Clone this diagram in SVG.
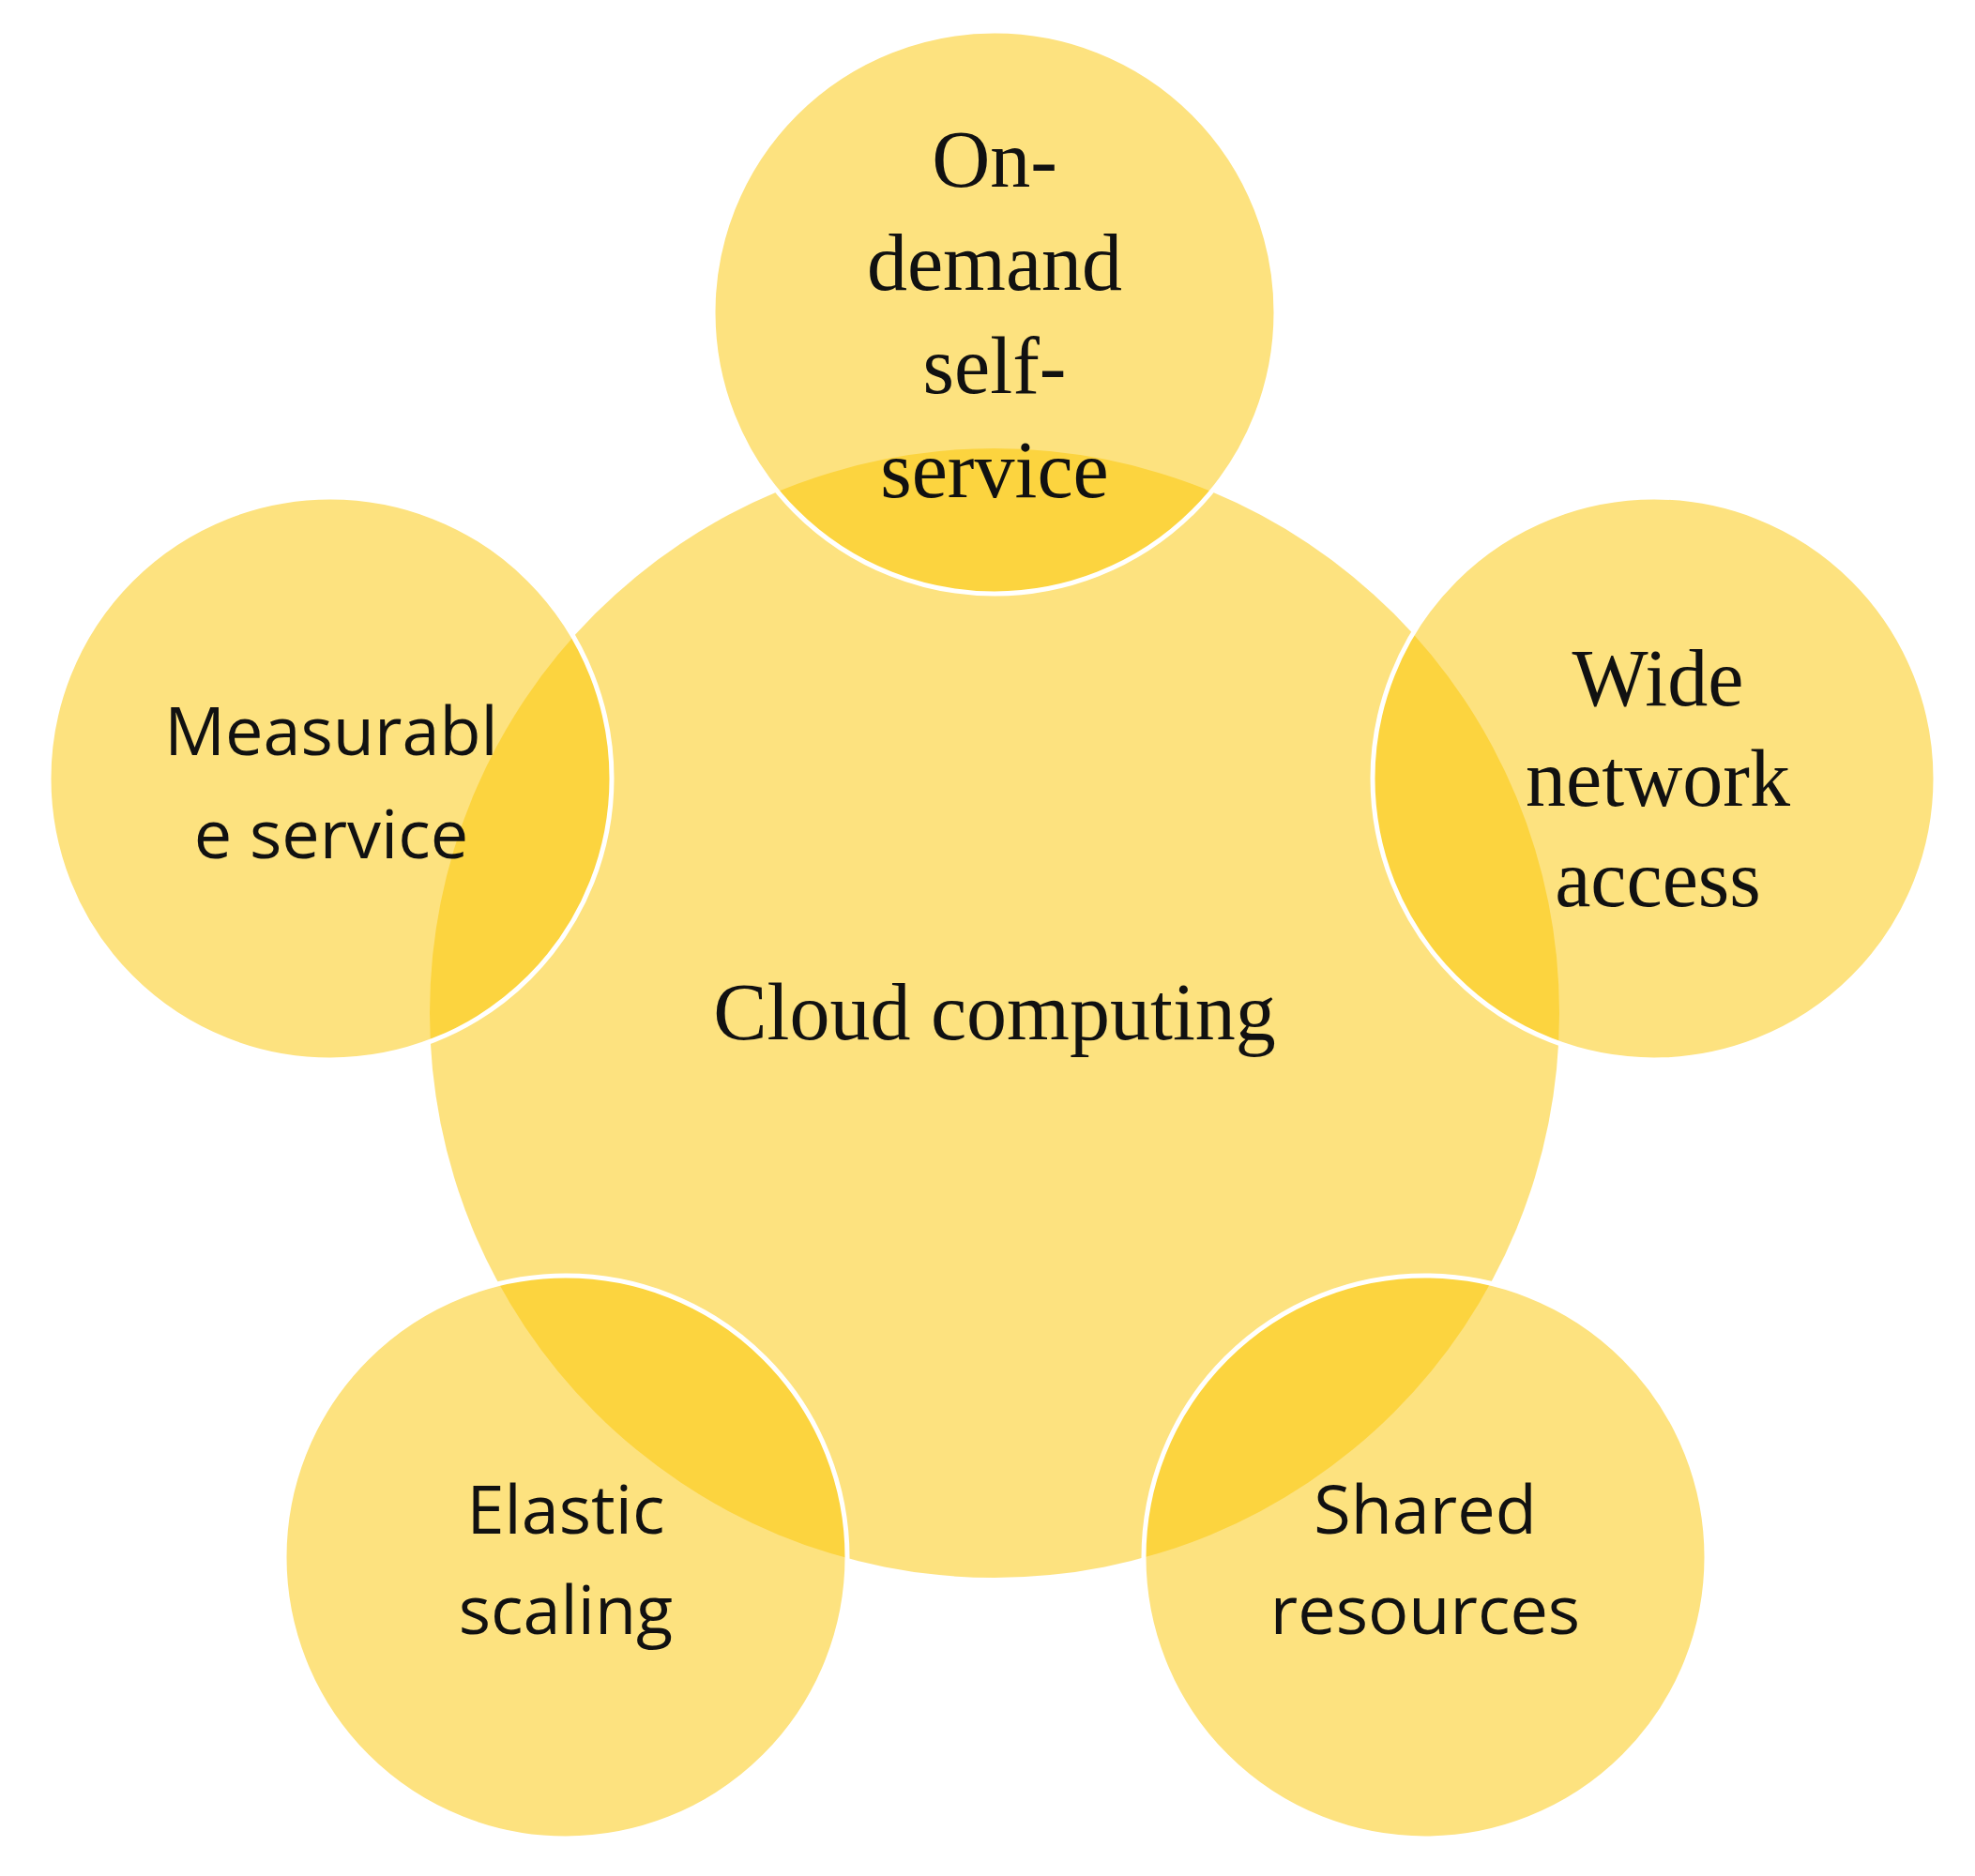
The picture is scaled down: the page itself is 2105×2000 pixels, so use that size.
<svg xmlns="http://www.w3.org/2000/svg" width="2105" height="2000" viewBox="0 0 2105 2000">
<style>
.c{fill:#FCC500;fill-opacity:0.5}
.s{fill:#FCC500;fill-opacity:0.5;stroke:#fff;stroke-width:5}
.sf{font-family:"Liberation Serif",serif;font-size:86px;fill:#111;text-anchor:middle}
.ss{font-family:"Open Sans","Liberation Sans",sans-serif;font-size:72px;fill:#111;text-anchor:middle}
</style>
<rect width="2105" height="2000" fill="#fff"/>
<g id="center"><circle class="c" cx="1060" cy="1080" r="602"/><text class="sf" x="1060" y="1108">Cloud computing</text></g>
<g id="top"><circle class="s" cx="1060" cy="333" r="300"/>
<text class="sf" x="1060" y="199">On-</text><text class="sf" x="1060" y="309">demand</text><text class="sf" x="1060" y="419">self-</text><text class="sf" x="1060" y="530">service</text></g>
<g id="right"><circle class="s" cx="1763" cy="830" r="300"/>
<text class="sf" x="1767" y="752">Wide</text><text class="sf" x="1767" y="859">network</text><text class="sf" x="1767" y="966">access</text></g>
<g id="left"><circle class="s" cx="352" cy="830" r="300"/>
<text class="ss" x="353" y="805">Measurabl</text><text class="ss" x="353" y="915">e service</text></g>
<g id="bottomleft"><circle class="s" cx="603" cy="1660" r="300"/>
<text class="ss" x="603" y="1635">Elastic</text><text class="ss" x="603" y="1742">scaling</text></g>
<g id="bottomright"><circle class="s" cx="1519" cy="1660" r="300"/>
<text class="ss" x="1519" y="1635">Shared</text><text class="ss" x="1519" y="1742">resources</text></g>
<g id="connectors"/>
</svg>
